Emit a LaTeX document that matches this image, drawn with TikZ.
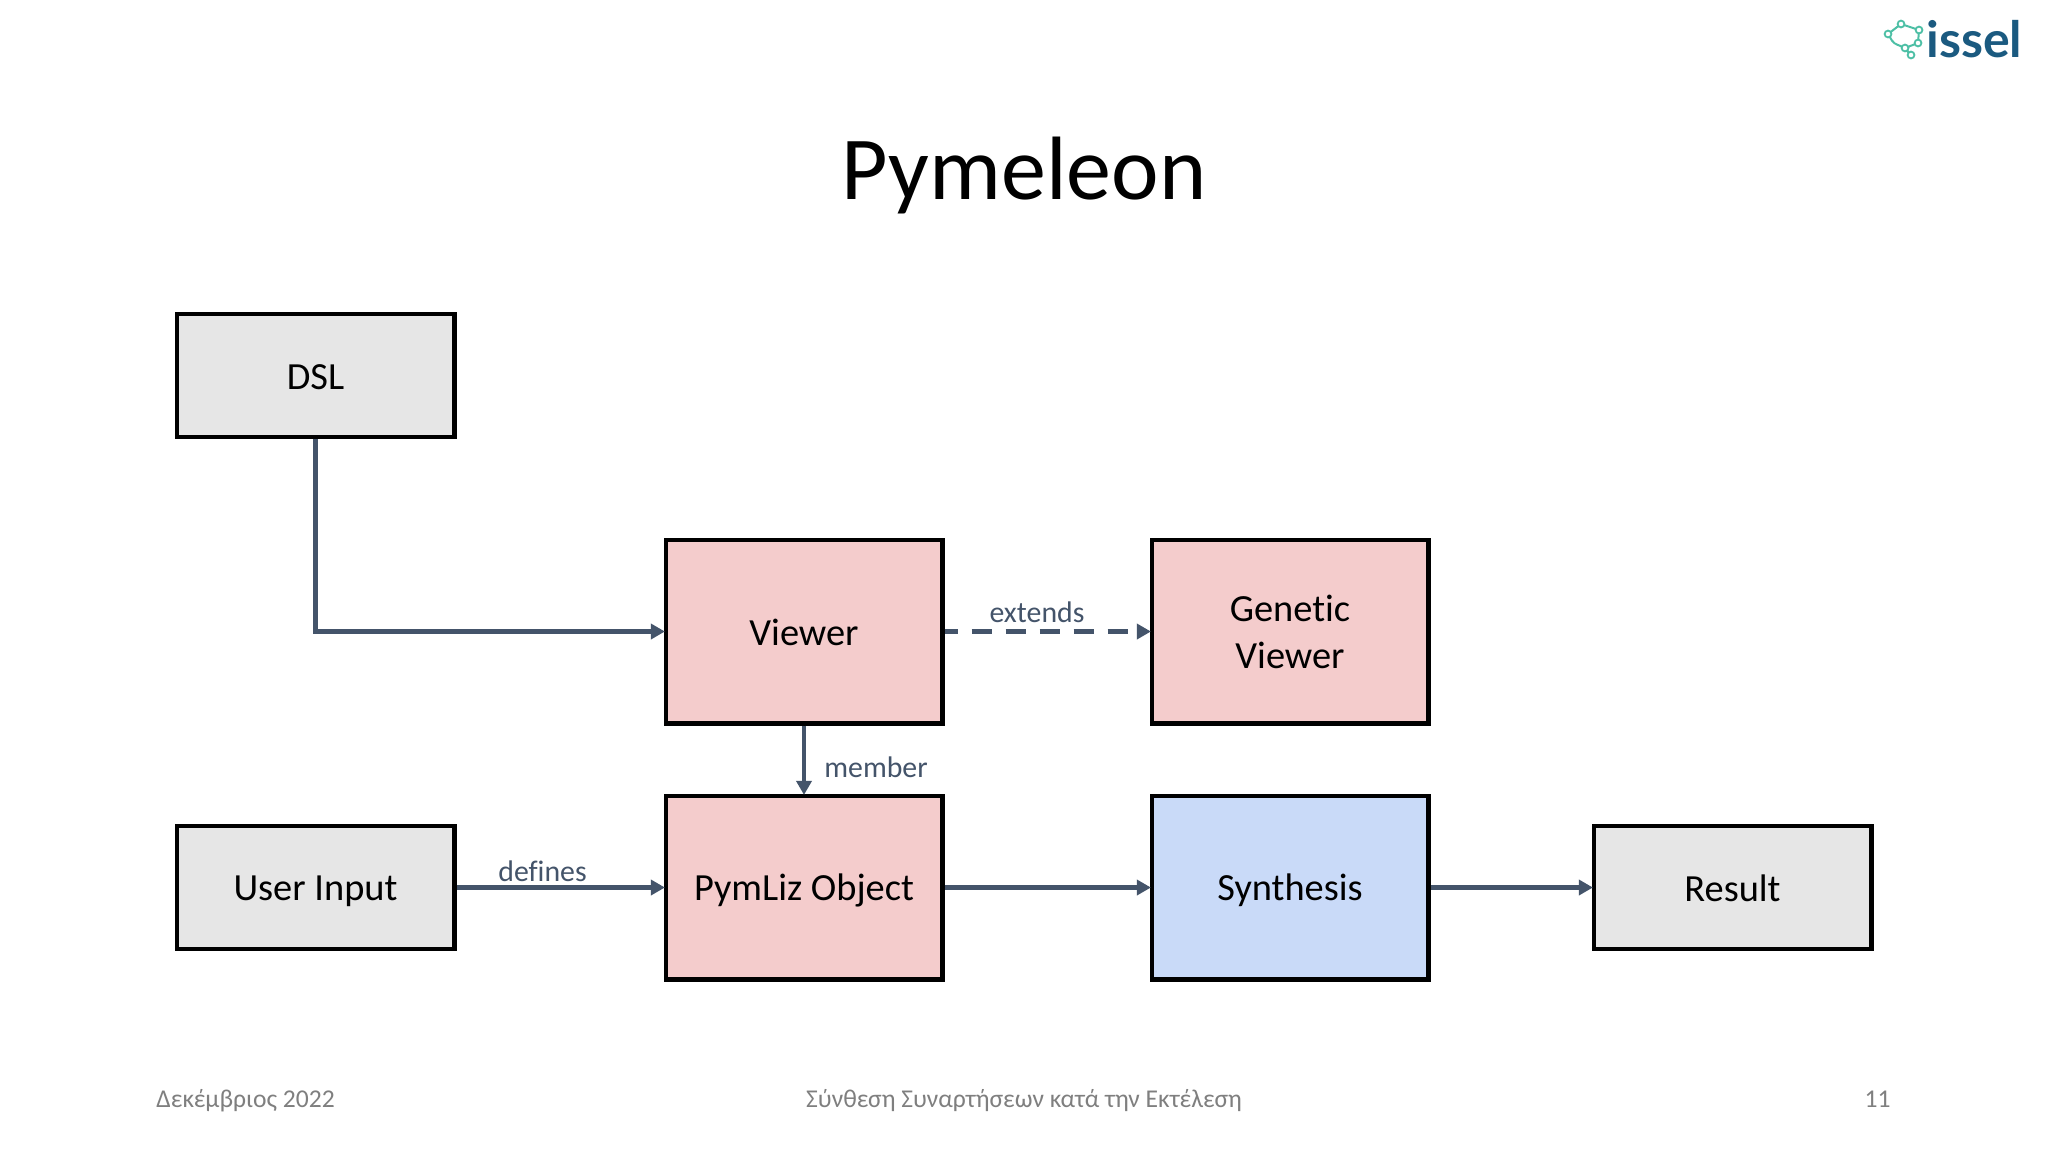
\documentclass[tikz,border=0pt]{standalone}
\usepackage{fontspec}
\setmainfont{Carlito}[Ligatures=NoCommon]
\newfontfamily\logofont{Lato}
\usetikzlibrary{arrows.meta}
\definecolor{conn}{HTML}{44546A}
\definecolor{pinkbox}{HTML}{F4CCCC}
\definecolor{graybox}{HTML}{E6E6E6}
\definecolor{bluebox}{HTML}{C9DAF8}
\definecolor{foot}{HTML}{7F7F7F}
\definecolor{logoteal}{HTML}{4DBFA5}
\definecolor{logoblue}{HTML}{1B5A80}
\newcommand{\bs}{\rule[-2.2pt]{0pt}{18.2pt}}
\tikzset{
  box/.style={draw=black,line width=2.2pt,inner sep=0pt,align=center,font=\fontsize{19.2}{23.5}\selectfont,text=black,anchor=center,outer sep=0.4pt},
  small/.style={box,minimum width=138.8pt,minimum height=61.3pt},
  large/.style={box,minimum width=138.3pt,minimum height=91.8pt},
  link/.style={draw=conn,line width=2.2pt,shorten <=0.8pt,-{Triangle[length=7pt,width=7.5pt]}},
  lab/.style={text=conn,font=\fontsize{14.9}{18}\selectfont,inner sep=0pt,anchor=base},
  footer/.style={text=foot,font=\fontsize{12.8}{15}\selectfont,inner sep=0pt,anchor=base},
  brain/.style={draw=logoteal,line width=1pt},
  dot/.style={circle,draw=logoteal,line width=.9pt,fill=white,inner sep=0pt,minimum size=3.4pt}
}
\begin{document}
\begin{tikzpicture}[x=0.5pt,y=-0.5pt]
\useasboundingbox[fill=white] (0,0) rectangle (2048,1152);
\node[font=\fontsize{45}{54}\selectfont,inner sep=0pt,anchor=base] (title) at (1024,199) {Pymeleon};
\node[small,fill=graybox] (dsl) at (315.5,375.5) {\bs DSL};
\node[large,fill=pinkbox] (viewer) at (804,631.5) {\bs Viewer};
\node[large,fill=pinkbox] (genetic) at (1290,631.5) {\bs Genetic\\\bs Viewer};
\node[small,fill=graybox] (user) at (315.5,887.5) {\bs User Input};
\node[large,fill=pinkbox] (pym) at (804,887.5) {\bs PymLiz Object};
\node[large,fill=bluebox] (syn) at (1290,887.5) {\bs Synthesis};
\node[small,fill=graybox] (res) at (1732.5,887.5) {\bs Result};
\draw[link] (dsl.south) |- (viewer.west);
\draw[link,dash pattern=on 10pt off 7pt,dash phase=3.5pt] (viewer.east) -- (genetic.west);
\draw[link] (viewer.south) -- (pym.north);
\draw[link] (user.east) -- (pym.west);
\draw[link] (pym.east) -- (syn.west);
\draw[link] (syn.east) -- (res.west);
\node[lab] (lext) at (1037,622) {extends};
\node[lab] (lmem) at (876,777) {member};
\node[lab] (ldef) at (542.5,881) {defines};
\node[footer,anchor=base west] (fdate) at (156,1107) {Δεκέμβριος 2022};
\node[footer] (fmid) at (1024,1107) {Σύνθεση Συναρτήσεων κατά την Εκτέλεση};
\node[footer,anchor=base east] (fnum) at (1891,1107) {11};
% logo
\draw[brain,rounded corners=2pt] (1888,34) -- (1901,24) -- (1919,30) -- (1918,43) -- (1905,48) -- (1911,55) -- (1902,46) -- (1894,44) -- cycle;
\foreach \p in {(1888,34),(1901,24),(1919,30),(1918,43),(1905,48),(1911,55)}
  \node[dot] at \p {};
\node[font=\logofont\bfseries\fontsize{25}{30}\selectfont,text=logoblue,inner sep=0pt,anchor=base west] (logo) at (1926,57) {issel};
\end{tikzpicture}
\end{document}
